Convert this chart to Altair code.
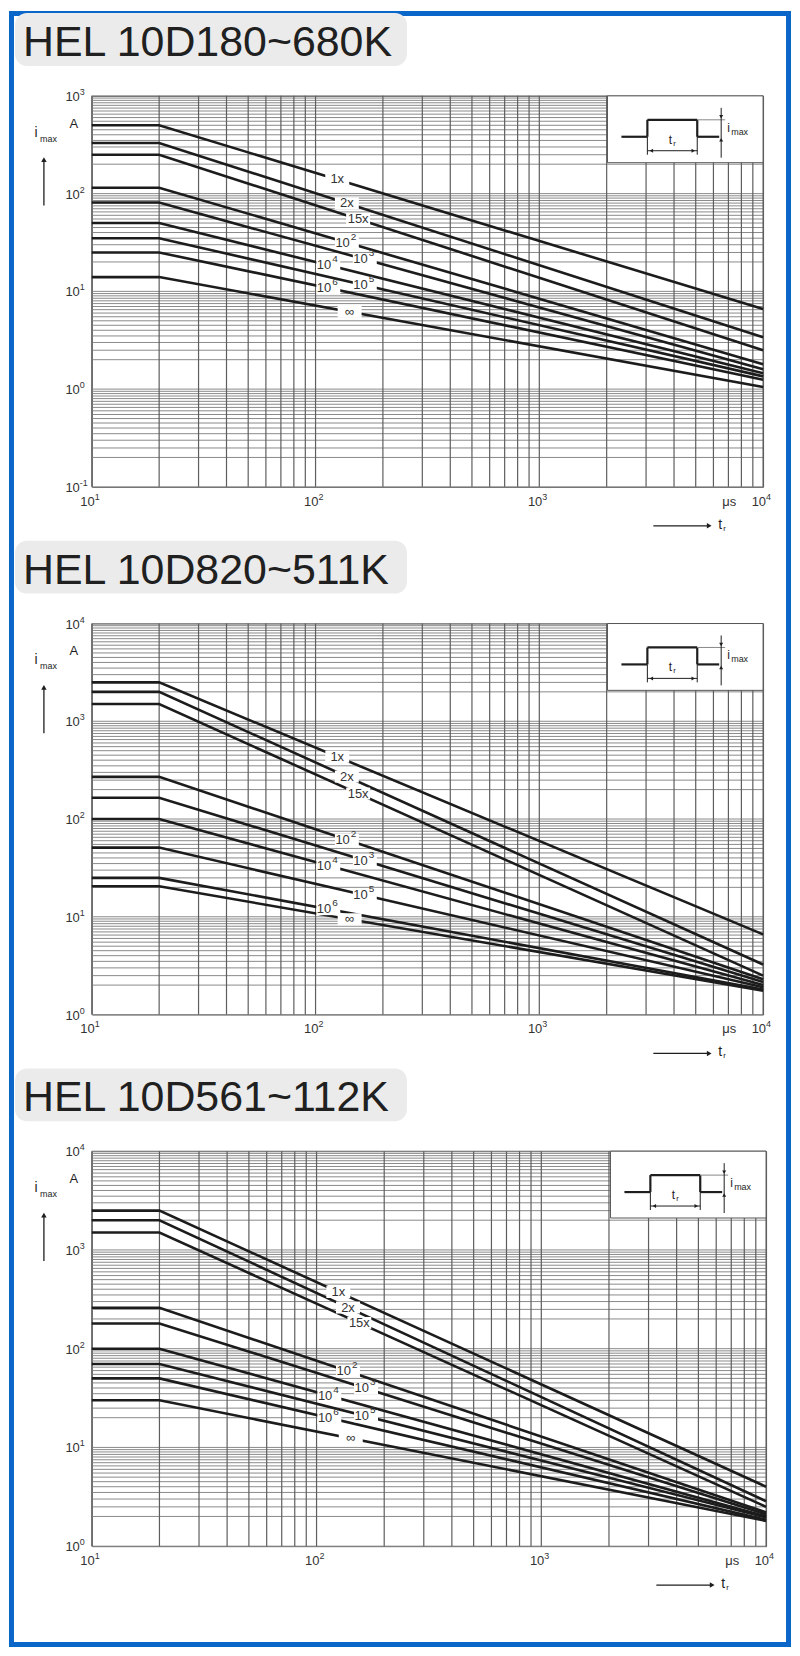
import math
import altair as alt
import pandas as pd

# ---------------- data ----------------
TITLES = ["HEL 10D180~680K", "HEL 10D820~511K", "HEL 10D561~112K"]
CURVE_NAMES = ["1x", "2x", "15x", "10²", "10³", "10⁴", "10⁵", "10⁶", "∞"]
# pulse duration breakpoints (μs): flat to 20 μs, then falling to 10^4 μs
T_POINTS = [10, 20, 10000]

P1_I0 = [500, 330, 250, 115, 81, 50, 35, 25, 14]
P1_IEND = [6.6, 3.4, 2.5, 1.8, 1.6, 1.45, 1.35, 1.25, 1.05]
P2_I0 = [2500, 2000, 1500, 270, 165, 100, 51, 25, 20.5]
P2_IEND = [6.6, 3.25, 2.5, 2.3, 2.15, 2.0, 1.9, 1.8, 1.75]
P3_I0 = [2500, 2000, 1500, 260, 180, 100, 70, 50, 30]
P3_IEND = [4.0, 2.85, 2.5, 2.2, 2.1, 2.0, 1.95, 1.85, 1.8]

# t_r (μs) where each curve label sits on its curve
LABEL_T = [125, 138, 155, 138, 166, 114, 166, 114, 142]

Y_DOMAINS = [(0.1, 1000), (1, 10000), (1, 10000)]
Y_TICK_VALUES = [[0.1, 1, 10, 100, 1000], [1, 10, 100, 1000, 10000], [1, 10, 100, 1000, 10000]]
Y_TICK_EXP = [["-1", "0", "1", "2", "3"],
              ["0", "1", "2", "3", "4"],
              ["0", "1", "2", "3", "4"]]
X_TICK_VALUES = [10, 100, 1000, 10000]
X_TICK_EXP = ["1", "2", "3", "4"]

X_GRID_MULT = [1, 2, 3, 4, 5, 6, 7, 8, 9]
Y_GRID_MULT = [1, 2, 2.5, 3, 3.5, 4, 4.5, 5, 5.5, 6, 6.5, 7, 7.5, 8, 8.5, 9, 9.5]

FONT = "Liberation Sans"
INK = "#1e1e1e"
LABEL_INK = "#333333"
ONE = pd.DataFrame({"k": [0]})
SUP = {"⁰": "0", "¹": "1", "²": "2", "³": "3", "⁴": "4", "⁵": "5", "⁶": "6", "⁷": "7", "⁸": "8", "⁹": "9"}


def grid_values(lo, hi, mults):
    e0, e1 = round(math.log10(lo)), round(math.log10(hi))
    vals = [m * 10.0 ** e for e in range(e0, e1) for m in mults]
    return vals + [hi]


def seg(x1, y1, x2, y2, w=1.0, c=INK):
    return alt.Chart(ONE).mark_rule(color=c, strokeWidth=w).encode(
        x=alt.value(x1), x2=alt.value(x2), y=alt.value(y1), y2=alt.value(y2))


def head(x, y, shape, size=22):
    return alt.Chart(ONE).mark_point(shape=shape, filled=True, color=INK, size=size, opacity=1).encode(
        x=alt.value(x), y=alt.value(y))


def txt(x, y, s, size=12, align="left", baseline="middle", color=INK):
    return alt.Chart(ONE).mark_text(text=s, fontSize=size, font=FONT, align=align,
                                    baseline=baseline, color=color).encode(
        x=alt.value(x), y=alt.value(y))


def panel(k, i0, iend, W, H, frame=False):
    ydom = Y_DOMAINS[k]
    xs = alt.Scale(type="log", domain=[10, 10000], nice=False)
    ys = alt.Scale(type="log", domain=list(ydom), nice=False)
    X = lambda f: alt.X(f, scale=xs, axis=None)
    Y = lambda f: alt.Y(f, scale=ys, axis=None)

    rows, labs = [], []
    lt0, lt1 = math.log10(T_POINTS[1]), math.log10(T_POINTS[2])
    for j, name in enumerate(CURVE_NAMES):
        vals = [i0[j], i0[j], iend[j]]
        for o, (t, v) in enumerate(zip(T_POINTS, vals)):
            rows.append({"t": t, "i": v, "c": name, "o": o})
        f = (math.log10(LABEL_T[j]) - lt0) / (lt1 - lt0)
        ly = 10 ** (math.log10(i0[j]) + f * (math.log10(iend[j]) - math.log10(i0[j])))
        is_pow = name.startswith("10") and len(name) > 2
        labs.append({"t": LABEL_T[j], "i": ly,
                     "plain": "" if is_pow else name,
                     "base": "10" if is_pow else "",
                     "exp": SUP.get(name[-1], "") if is_pow else ""})
    curves = pd.DataFrame(rows)
    labels = pd.DataFrame(labs)

    L = []
    if frame:
        L.append(alt.Chart(ONE).mark_rect(fillOpacity=0, stroke="#0b66c9", strokeWidth=5).encode(
            x=alt.value(-80.5), x2=alt.value(698.5), y=alt.value(-82.5), y2=alt.value(1552.5)))

    # grid
    L.append(alt.Chart(pd.DataFrame({"y": grid_values(ydom[0], ydom[1], Y_GRID_MULT)}))
             .mark_rule(color="#8a8a8a", strokeWidth=1).encode(y=Y("y:Q")))
    L.append(alt.Chart(pd.DataFrame({"x": grid_values(10, 10000, X_GRID_MULT)}))
             .mark_rule(color="#5e5e5e", strokeWidth=1.2).encode(x=X("x:Q")))

    # inset with the pulse sketch
    L.append(alt.Chart(ONE).mark_rect(fill="white", stroke="#555555", strokeWidth=1).encode(
        x=alt.value(W - 156), x2=alt.value(W), y=alt.value(0), y2=alt.value(67)))
    xa, xb, xc, xd = W - 142, W - 116, W - 66, W - 44
    yb, yt, yd = 41, 24, 55
    for s in [(xa, yb, xb, yb), (xb, yb, xb, yt), (xb, yt, xc, yt), (xc, yt, xc, yb), (xc, yb, xd, yb)]:
        L.append(seg(*s, w=2.2))
    L += [seg(xb, yb, xb, yd + 4), seg(xc, yb, xc, yd + 4), seg(xb, yd, xc, yd),
          head(xb + 4, yd, "triangle-left", 16), head(xc - 4, yd, "triangle-right", 16),
          seg(xc, yt, W - 38, yt, c="#888888"),
          seg(W - 42, 12, W - 42, 62),
          head(W - 42, yt - 3, "triangle-down", 16), head(W - 42, yb + 3, "triangle-up", 16),
          txt(W - 93, 44, "t", 12, "center"), txt(W - 90, 48, "r", 8),
          txt(W - 36, 32, "i", 12), txt(W - 32, 36, "max", 9)]

    # curves
    L.append(alt.Chart(curves).mark_line(color="#1c1c1c", strokeWidth=2.6).encode(
        x=X("t:Q"), y=Y("i:Q"), detail="c:N", order="o:O"))
    L.append(alt.Chart(labels).mark_point(shape="M-1.2,-0.6H1.2V0.6H-1.2Z", size=400, filled=True,
                                          color="white", opacity=1).encode(x=X("t:Q"), y=Y("i:Q")))
    L.append(alt.Chart(labels).mark_text(fontSize=13, font=FONT, color=LABEL_INK, align="center",
                                         baseline="middle").encode(x=X("t:Q"), y=Y("i:Q"), text="plain:N"))
    L.append(alt.Chart(labels).mark_text(fontSize=13, font=FONT, color=LABEL_INK, align="right",
                                         baseline="middle", dx=3).encode(x=X("t:Q"), y=Y("i:Q"), text="base:N"))
    L.append(alt.Chart(labels).mark_text(fontSize=10, font=FONT, color=LABEL_INK, align="left",
                                         baseline="middle", dx=4, dy=-6).encode(x=X("t:Q"), y=Y("i:Q"), text="exp:N"))

    # tick labels (10 with exponent)
    yt_df = pd.DataFrame({"v": Y_TICK_VALUES[k], "e": Y_TICK_EXP[k], "b": ["10"] * len(Y_TICK_EXP[k])})
    L.append(alt.Chart(yt_df).mark_text(fontSize=13, font=FONT, color=LABEL_INK, align="right",
                                        baseline="middle", dy=1)
             .encode(y=Y("v:Q"), x=alt.value(-12), text="b:N"))
    L.append(alt.Chart(yt_df).mark_text(fontSize=9, font=FONT, color=LABEL_INK, align="left",
                                        baseline="middle", dy=-4)
             .encode(y=Y("v:Q"), x=alt.value(-12), text="e:N"))
    xt_df = pd.DataFrame({"v": X_TICK_VALUES, "e": X_TICK_EXP, "b": ["10"] * len(X_TICK_EXP)})
    L.append(alt.Chart(xt_df).mark_text(fontSize=13, font=FONT, color=LABEL_INK, align="right",
                                        baseline="middle", dx=3)
             .encode(x=X("v:Q"), y=alt.value(H + 15), text="b:N"))
    L.append(alt.Chart(xt_df).mark_text(fontSize=9, font=FONT, color=LABEL_INK, align="left",
                                        baseline="middle", dx=3)
             .encode(x=X("v:Q"), y=alt.value(H + 10), text="e:N"))
    L.append(txt(W - 34, H + 15, "μs", 13, "center", color=LABEL_INK))

    # axis titles
    L += [txt(-18, 28, "A", 13, "center"), txt(-56, 37, "i", 14, "center"),
          txt(-52, 43, "max", 9),
          seg(-48, 64, -48, 110, w=1.3), head(-48, 64, "triangle-up", 30),
          seg(W - 110, H + 39, W - 54, H + 39, w=1.3), head(W - 54, H + 39, "triangle-right", 30),
          txt(W - 45, H + 38, "t", 14), txt(W - 40, H + 42, "r", 8)]

    # title
    L.append(alt.Chart(ONE).mark_rect(fill="#ebebeb", cornerRadius=12).encode(
        x=alt.value(-77), x2=alt.value(316), y=alt.value(-83), y2=alt.value(-30)))
    L.append(txt(-69, -40, TITLES[k], 43, "left", "alphabetic", "#202020"))

    return alt.layer(*L).properties(width=W, height=H)


p1 = panel(0, P1_I0, P1_IEND, 673, 392, frame=True)
p2 = panel(1, P2_I0, P2_IEND, 673, 392)
p3 = panel(2, P3_I0, P3_IEND, 676, 396)

chart = (alt.vconcat(p1, p2, p3, spacing=137, bounds="flush")
         .properties(padding={"left": 0, "top": 0, "right": 0, "bottom": 0}, background="white")
         .configure_view(stroke="#555555", strokeWidth=1)
         .configure_text(font=FONT))

chart.save("out.html", embed_options={"renderer": "svg", "actions": False})
